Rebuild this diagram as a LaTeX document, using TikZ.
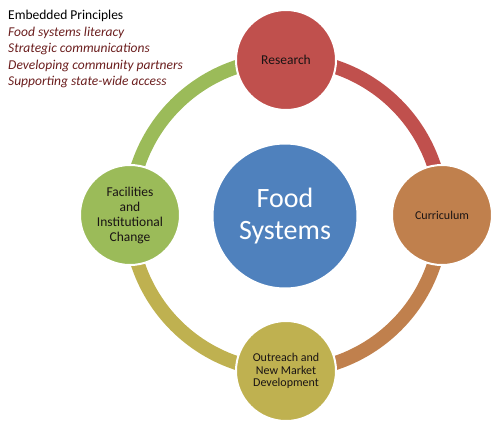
\documentclass[tikz,border=0pt]{standalone}
\usepackage{fontspec}
\setmainfont{Carlito}
\definecolor{cred}{HTML}{C0504D}
\definecolor{corange}{HTML}{C0804D}
\definecolor{colive}{HTML}{BFB150}
\definecolor{cgreen}{HTML}{9BBB59}
\definecolor{cblue}{HTML}{4F81BD}
\definecolor{maroon}{HTML}{6B1E1E}
\definecolor{ctext}{HTML}{1A1414}
\begin{document}
\begin{tikzpicture}[x=1pt,y=-1pt,
  bubble/.style={circle,draw=white,line width=2pt,minimum size=100pt,inner sep=0pt,align=center,text=ctext},
  band/.style={line width=14pt},
  legend/.style={anchor=west,inner sep=0pt,font=\fontsize{13.5}{16}\selectfont}]
\useasboundingbox (0,0) rectangle (499,429);
\coordinate (c) at (286,215);
% ring arcs
\draw[band,cred] (286,59) arc[start angle=-90,end angle=0,radius=156];
\draw[band,corange] (442,215) arc[start angle=0,end angle=90,radius=156];
\draw[band,colive] (286,371) arc[start angle=90,end angle=180,radius=156];
\draw[band,cgreen] (130,215) arc[start angle=180,end angle=270,radius=156];
% center
\node[circle,draw=white,line width=2pt,fill=cblue,minimum size=145pt,inner sep=0pt,align=center,text=white,font=\fontsize{28}{30}\selectfont] (fs) at (285,216) {Food\\[1.5pt]Systems};
% bubbles
\node[bubble,fill=cred,font=\fontsize{13.5}{15}\selectfont] (res) at (286,60) {Research};
\node[bubble,fill=corange,font=\fontsize{12}{13}\selectfont] (cur) at (442,215) {Curriculum};
\node[bubble,fill=colive,font=\fontsize{12}{12.5}\selectfont] (out) at (286,371) {Outreach and\\New Market\\Development};
\node[bubble,fill=cgreen,font=\fontsize{13.5}{15}\selectfont] (fac) at (130,215) {Facilities\\and\\Institutional\\Change};
% legend
\node[legend,text=black] (l0) at (8,16) {Embedded Principles};
\node[legend,text=maroon,font=\fontsize{13.5}{16}\selectfont\itshape] (l1) at (8,32.5) {Food systems literacy};
\node[legend,text=maroon,font=\fontsize{13.5}{16}\selectfont\itshape] (l2) at (8,49) {Strategic communications};
\node[legend,text=maroon,font=\fontsize{13.5}{16}\selectfont\itshape] (l3) at (8,65.5) {Developing community partners};
\node[legend,text=maroon,font=\fontsize{13.5}{16}\selectfont\itshape] (l4) at (8,82) {Supporting state-wide access};
\end{tikzpicture}
\end{document}
